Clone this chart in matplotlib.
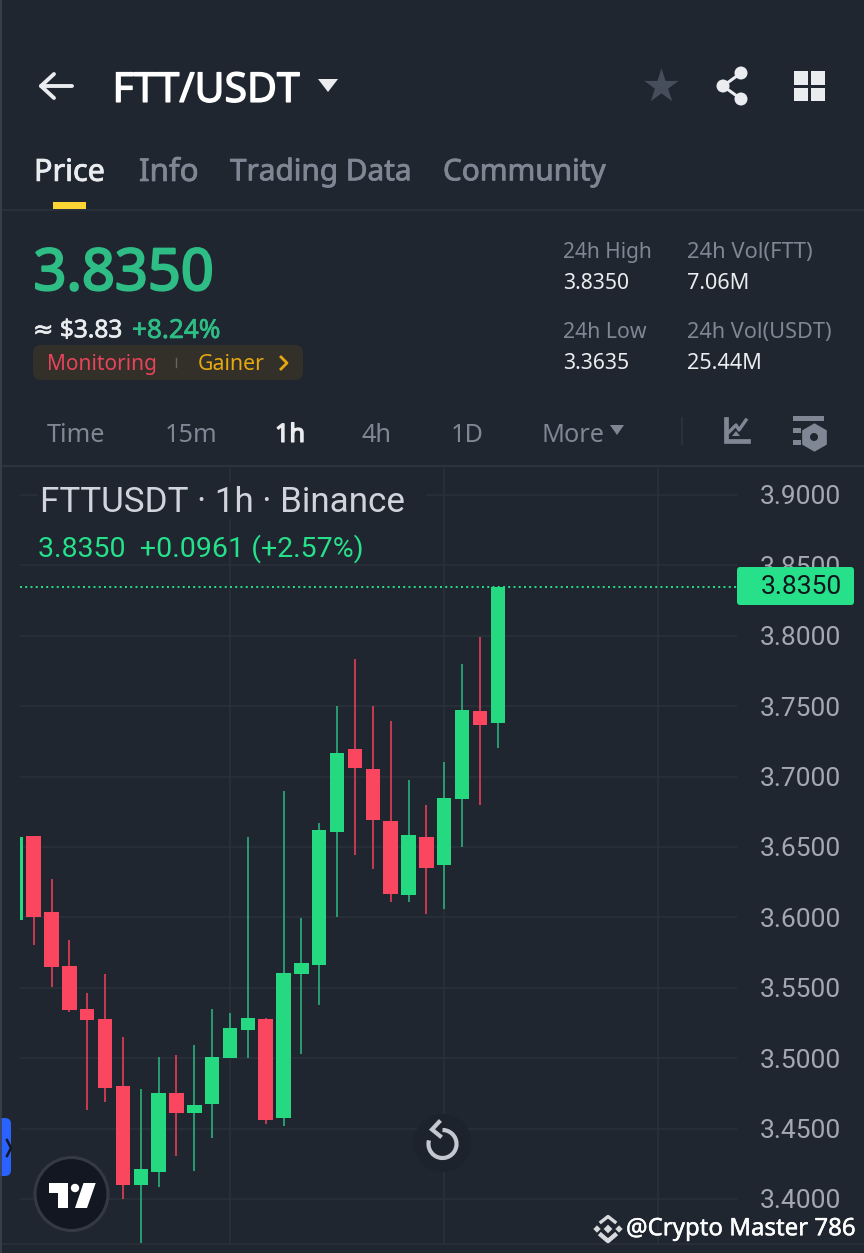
#!/usr/bin/env python3
"""
Redraw the FTT/USDT 1h candlestick screen.
"""

import matplotlib

matplotlib.use("Agg")

import matplotlib.patheffects as pe
import matplotlib.pyplot as plt
from matplotlib.patches import Arc, Circle, FancyBboxPatch, Polygon, Rectangle


W, H = 864, 1253

# candles, oldest first
opens = [3.5982, 3.6576, 3.6038, 3.5655, 3.5347, 3.5278, 3.4803, 3.4099, 3.4190, 3.4755,
         3.4613, 3.4677, 3.5001, 3.5200, 3.5278, 3.4577, 3.5600, 3.5660, 3.6609, 3.7198,
         3.7056, 3.6687, 3.6161, 3.6573, 3.6372, 3.6843, 3.7466, 3.7383]
highs = [3.6571, 3.6578, 3.6271, 3.5840, 3.5465, 3.5598, 3.5148, 3.4783, 3.5011, 3.5023,
         3.5096, 3.5352, 3.5319, 3.6569, 3.5286, 3.6898, 3.5996, 3.6668, 3.7501, 3.7835,
         3.7501, 3.7397, 3.6976, 3.6800, 3.7104, 3.7800, 3.7989, 3.8350]
lows = [3.5982, 3.5804, 3.5508, 3.5330, 3.4632, 3.4691, 3.4002, 3.3690, 3.4087, 3.4308,
        3.4201, 3.4435, 3.5001, 3.5001, 3.4531, 3.4521, 3.5030, 3.5378, 3.6001, 3.6443,
        3.6342, 3.6112, 3.6112, 3.6026, 3.6060, 3.6502, 3.6798, 3.7201]
closes = [3.6571, 3.6005, 3.5650, 3.5342, 3.5271, 3.4790, 3.4099, 3.4215, 3.4755, 3.4609,
          3.4665, 3.5006, 3.5214, 3.5283, 3.4559, 3.5603, 3.5676, 3.6621, 3.7170, 3.7063,
          3.6694, 3.6168, 3.6583, 3.6353, 3.6846, 3.7471, 3.7369, 3.8350]

price_ticks = [3.40, 3.45, 3.50, 3.55, 3.60, 3.65, 3.70, 3.75, 3.80, 3.85, 3.90]
time_grid = [12, 24, 36]
last_price = 3.8350

COLORS = {
    "bg": "#1f2630",
    "grid": "#2a313b",
    "line": "#2c333d",
    "white": "#eaecef",
    "muted": "#7f8794",
    "axis": "#a3a8b2",
    "price": "#2ebd85",
    "up": "#25d981",
    "up_wick": "#2bb57f",
    "down": "#fb4660",
    "down_wick": "#ec3f59",
    "tv_green": "#26e08a",
    "yellow": "#fcd535",
}

UI_FONT = ["Noto Sans", "DejaVu Sans"]
CHART_FONT = "Roboto"


def label(ax, x, y, s, size, color, ha="left", family=UI_FONT, fat=0.0):
    # va=center sits high because of the descender, so nudge it down
    t = ax.text(x, y + size * 0.13, s, fontsize=size, color=color, ha=ha, va="center",
                family=family, zorder=10)
    if fat:
        t.set_path_effects([pe.withStroke(linewidth=fat, foreground=color)])
    return t


def draw_candles(ax):
    ax.set_ylim(3.4 + (1199 - 1243.5) * 0.05 / 70.4, 3.4 + (1199 - 466) * 0.05 / 70.4)
    ax.set_xlim((20 - 15.8) / 17.85, (737 - 15.8) / 17.85)
    ax.set_facecolor(COLORS["bg"])
    for spine in ax.spines.values():
        spine.set_visible(False)

    ax.set_axisbelow(True)
    ax.set_yticks(price_ticks)
    ax.set_yticklabels([f"{p:.4f}" for p in price_ticks])
    ax.set_xticks(time_grid)
    ax.grid(True, color=COLORS["grid"], linewidth=1.1)
    ax.yaxis.tick_right()
    ax.tick_params(axis="y", length=0, pad=16.5, labelsize=19, labelcolor=COLORS["axis"])
    ax.tick_params(axis="x", length=0, labelbottom=False)
    for tick in ax.get_yticklabels():
        tick.set_family(CHART_FONT)

    for i, (o, h, l, c) in enumerate(zip(opens, highs, lows, closes)):
        up = c >= o
        ax.vlines(i, l, h, color=COLORS["up_wick"] if up else COLORS["down_wick"],
                  linewidth=1.15, zorder=3)
        ax.bar(i, abs(c - o), bottom=min(o, c), width=0.81,
               color=COLORS["up"] if up else COLORS["down"], linewidth=0, zorder=4)

    ax.axhline(last_price, color=COLORS["tv_green"], linewidth=1.4, linestyle=(0, (1, 1.7)), zorder=2)


def draw_header(ax):
    # back arrow
    ax.plot([41, 72], [86, 86], color=COLORS["white"], lw=2.8, solid_capstyle="round")
    ax.plot([54, 41, 54], [74, 86, 98], color=COLORS["white"], lw=2.8,
            solid_capstyle="round", solid_joinstyle="round")
    label(ax, 112.5, 87, "FTT/USDT", 29.5, "#ffffff", fat=1.0)
    ax.add_patch(Polygon([(318, 79), (338, 79), (328, 92)], closed=True, fc=COLORS["white"], ec="none"))

    # star, share, grid
    ax.scatter([661], [86], marker="*", s=680, color="#474e5b", linewidths=0)
    for x, y in [(741, 73), (723, 86), (741, 99)]:
        ax.add_patch(Circle((x, y), 6.5, fc=COLORS["white"], ec="none"))
    ax.plot([741, 723, 741], [73, 86, 99], color=COLORS["white"], lw=2.2)
    for x, y in [(794, 71), (811, 71), (794, 87.5), (811, 87.5)]:
        ax.add_patch(Rectangle((x, y), 13.5, 13.5, fc=COLORS["white"], ec="none"))

    label(ax, 34, 170, "Price", 22, COLORS["white"], fat=0.6)
    label(ax, 139, 170, "Info", 22.5, COLORS["muted"], fat=0.6)
    label(ax, 230, 170, "Trading Data", 21.4, COLORS["muted"], fat=0.6)
    label(ax, 443, 170, "Community", 21.4, COLORS["muted"], fat=0.6)
    ax.add_patch(Rectangle((53, 202), 33, 6.5, fc=COLORS["yellow"], ec="none"))
    ax.plot([0, W], [209.5, 209.5], color=COLORS["line"], lw=1.1)


def draw_quote(ax):
    label(ax, 33.5, 269, "3.8350", 41.5, COLORS["price"], fat=1.6)
    label(ax, 33, 329, "≈ $3.83", 17.6, COLORS["white"], fat=0.5)
    label(ax, 132, 329, "+8.24%", 18.8, COLORS["price"], fat=0.5)

    ax.add_patch(FancyBboxPatch((33, 345), 270, 35, boxstyle="round,pad=0,rounding_size=8",
                                fc="#33302a", ec="none"))
    label(ax, 47, 363, "Monitoring", 15, "#e8435a")
    ax.plot([176, 176], [358, 367], color="#6b665a", lw=1)
    label(ax, 198, 363, "Gainer", 15.3, "#e5a90f")
    ax.plot([281, 287, 281], [357, 363, 369], color="#e5a90f", lw=2)

    label(ax, 563, 251, "24h High", 15, COLORS["muted"])
    label(ax, 563, 282, "3.8350", 15.2, COLORS["white"])
    label(ax, 687, 250, "24h Vol(FTT)", 15.8, COLORS["muted"])
    label(ax, 687, 281, "7.06M", 15.6, COLORS["white"])
    label(ax, 563, 331, "24h Low", 15.3, COLORS["muted"])
    label(ax, 563, 362, "3.3635", 15.2, COLORS["white"])
    label(ax, 687, 330, "24h Vol(USDT)", 15.6, COLORS["muted"])
    label(ax, 687, 361, "25.44M", 15.6, COLORS["white"])


def draw_toolbar(ax):
    for x, s, color, fat in [(47, "Time", COLORS["muted"], 0),
                             (165, "15m", COLORS["muted"], 0),
                             (275, "1h", COLORS["white"], 1.0),
                             (362, "4h", COLORS["muted"], 0),
                             (451, "1D", COLORS["muted"], 0),
                             (541, "More", COLORS["muted"], 0)]:
        label(ax, x, 433, s, 18.2, color, fat=fat)
    ax.add_patch(Polygon([(610, 425), (624, 425), (617, 435)], closed=True, fc=COLORS["muted"], ec="none"))
    ax.plot([682, 682], [418, 444], color=COLORS["line"], lw=1.3)

    # indicator icon
    ax.plot([726, 726, 748], [419, 441, 441], color=COLORS["muted"], lw=3.4, solid_joinstyle="miter")
    ax.plot([729, 736, 739, 746], [432, 425, 430, 420], color=COLORS["muted"], lw=2.4)
    ax.add_patch(Polygon([(732, 436), (740, 436), (736, 431)], closed=True, fc=COLORS["muted"], ec="none"))

    # settings icon
    ax.add_patch(Rectangle((793, 416), 31, 5, fc=COLORS["muted"], ec="none"))
    ax.add_patch(Rectangle((793, 428), 8, 5, fc=COLORS["muted"], ec="none"))
    ax.add_patch(Rectangle((793, 440), 8, 5, fc=COLORS["muted"], ec="none"))
    ax.scatter([814], [437], marker="h", s=420, color=COLORS["muted"], linewidths=0)
    ax.add_patch(Circle((814, 437), 4, fc=COLORS["bg"], ec="none"))

    ax.plot([0, W], [465.5, 465.5], color=COLORS["line"], lw=1.6)


def draw_overlays(ax):
    # legend sits on a plate that hides the grid
    ax.add_patch(Rectangle((37, 483), 390, 36, fc=COLORS["bg"], ec="none", zorder=5))
    label(ax, 40, 499, "FTTUSDT · 1h · Binance", 25.2, "#d1d4dc", family=CHART_FONT)
    label(ax, 38, 546, "3.8350  +0.0961 (+2.57%)", 20.5, COLORS["tv_green"], family=CHART_FONT)

    # last price tag
    ax.add_patch(FancyBboxPatch((737, 567), 117, 38, boxstyle="round,pad=0,rounding_size=3",
                                fc=COLORS["tv_green"], ec="none", zorder=8))
    label(ax, 761, 585, "3.8350", 19, "#10151c", family=CHART_FONT)

    # blue side tab
    ax.add_patch(FancyBboxPatch((-12, 1118), 23, 58, boxstyle="round,pad=0,rounding_size=6",
                                fc="#2962ff", ec="none", zorder=8))
    ax.plot([7, 11, 7], [1140, 1148, 1156], color="#131722", lw=1.8, zorder=9)

    # TradingView badge
    ax.add_patch(Circle((71.5, 1194), 36.5, fc="#131722", ec="#343a45", lw=2.2, zorder=8))
    ax.add_patch(Polygon([(48.5, 1183), (68, 1183), (68, 1208), (58, 1208), (58, 1193), (48.5, 1193)],
                         closed=True, fc="white", ec="none", zorder=9))
    ax.add_patch(Circle((75, 1188), 4.2, fc="white", ec="none", zorder=9))
    ax.add_patch(Polygon([(83.5, 1183), (95.7, 1183), (87, 1208), (75, 1208)],
                         closed=True, fc="white", ec="none", zorder=9))

    # reset view button
    ax.add_patch(Circle((442.5, 1143), 29, fc="#1d232c", ec="none", zorder=6))
    ax.add_patch(Arc((442.5, 1144), 28, 28, theta1=-90, theta2=195, ec="#c3c7cf", lw=3, zorder=7))
    ax.plot([439, 432, 440], [1122, 1129.5, 1136], color="#c3c7cf", lw=3,
            solid_joinstyle="miter", zorder=7)

    # watermark logo
    mark = "#d8dadd"
    ax.plot([601, 608, 615], [1222, 1216.5, 1222], color=mark, lw=2.4, zorder=10)
    ax.plot([601, 608, 615], [1235, 1241, 1235], color=mark, lw=3.2, zorder=10)
    ax.scatter([597, 619, 608], [1229, 1229, 1229], marker="D", s=[14, 14, 20],
               color=mark, linewidths=0, zorder=10)
    label(ax, 626, 1227, "@Crypto Master 786", 17.3, "#ffffff", fat=0.3)

    ax.plot([0, W], [1243.5, 1243.5], color=COLORS["grid"], lw=1.1, zorder=1)
    ax.plot([0.5, 0.5], [0, H], color="#3c424c", lw=1.2, zorder=12)


def main():
    fig = plt.figure(figsize=(W / 100, H / 100), dpi=100, facecolor=COLORS["bg"])

    chart = fig.add_axes([20 / W, 1 - 1243.5 / H, 717 / W, (1243.5 - 466) / H])
    draw_candles(chart)

    ui = fig.add_axes([0, 0, 1, 1], zorder=5)
    ui.set_xlim(0, W)
    ui.set_ylim(H, 0)
    ui.axis("off")
    ui.patch.set_alpha(0)

    draw_header(ui)
    draw_quote(ui)
    draw_toolbar(ui)
    draw_overlays(ui)

    fig.savefig("out.png", dpi=100, facecolor=COLORS["bg"])
    plt.close(fig)


if __name__ == "__main__":
    main()
